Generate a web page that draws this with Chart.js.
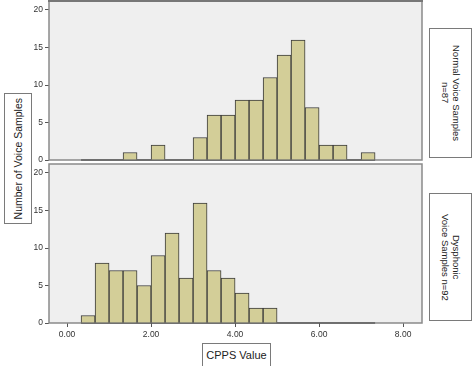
<!DOCTYPE html>
<html lang="en">
<head>
    <meta charset="UTF-8">
    <title>CPPS Histogram</title>
    <script src="https://cdn.jsdelivr.net/npm/chart.js"></script>
    <style>
        body {
            margin: 0;
            background: #ffffff;
            font-family: 'Liberation Sans', Arial, sans-serif;
        }

        #wrap {
            position: relative;
            width: 474px;
            height: 366px;
            overflow: hidden;
        }

        canvas {
            position: absolute;
            left: 0;
        }

        .box {
            position: absolute;
            box-sizing: border-box;
            border: 1.5px solid #7a7a7a;
            background: #ffffff;
            color: #222;
            display: flex;
            align-items: center;
            justify-content: center;
            text-align: center;
            line-height: 1.2;
        }

        .vert {
            writing-mode: vertical-rl;
        }

        .up {
            writing-mode: vertical-rl;
            transform: rotate(180deg);
        }
    </style>
</head>
<body>
<div id="wrap">
    <canvas id="bottomChart" style="top:163px" width="424" height="203"></canvas>
    <canvas id="topChart" style="top:0px" width="424" height="167"></canvas>

    <div class="box" style="left:4px; top:93px; width:28px; height:131px; font-size:10.5px;">
        <span class="up">Number of Voice Samples</span>
    </div>
    <div class="box" style="left:429px; top:28px; width:43px; height:130px; font-size:9.5px;">
        <span class="vert">Normal Voice Samples<br>n=87</span>
    </div>
    <div class="box" style="left:429px; top:193px; width:43px; height:128px; font-size:9.5px;">
        <span class="vert">Dysphonic<br>Voice Samples n=92</span>
    </div>
    <div class="box" style="left:202px; top:343px; width:69px; height:30px; font-size:11px; align-items:flex-start; padding-top:5px;">
        CPPS Value
    </div>
</div>

<script>
    // bin lower edges (CPPS), bin width is 1/3
    const binWidth = 1 / 3;
    const binLow = [0.333, 0.667, 1.0, 1.333, 1.667, 2.0, 2.333, 2.667, 3.0, 3.333, 3.667,
                    4.0, 4.333, 4.667, 5.0, 5.333, 5.667, 6.0, 6.333, 6.667, 7.0];

    const normalCounts = [0, 0, 0, 1, 0, 2, 0, 0, 3, 6, 6, 8, 8, 11, 14, 16, 7, 2, 2, 0, 1];
    const dysphonicCounts = [1, 8, 7, 7, 5, 9, 12, 6, 16, 7, 6, 4, 2, 2, 0, 0, 0, 0, 0, 0, 0];

    const xTickStep = 2;
    const yTickStep = 5;

    const panelFrame = {
        id: 'panelFrame',
        beforeDraw(chart) {
            const a = chart.chartArea;
            const ctx = chart.ctx;
            ctx.save();
            ctx.fillStyle = '#efefef';
            ctx.fillRect(a.left, a.top, a.right - a.left, a.bottom - a.top);
            ctx.restore();
        },
        beforeDatasetsDraw(chart, args, opts) {
            const a = chart.chartArea;
            const ctx = chart.ctx;
            ctx.save();
            ctx.strokeStyle = '#8a8a8a';
            ctx.lineWidth = 1.5;
            ctx.strokeRect(a.left, a.top, a.right - a.left, a.bottom - a.top);
            if (opts.thickTop) {
                ctx.strokeStyle = '#777';
                ctx.lineWidth = 3;
                ctx.beginPath();
                ctx.moveTo(a.left - 1, a.top - 0.5);
                ctx.lineTo(a.right + 1, a.top - 0.5);
                ctx.stroke();
            }
            ctx.restore();
        }
    };

    function makeChart(id, counts, showX, thickTop) {
        const bars = binLow.map((low, i) => ({ x: low + binWidth / 2, y: counts[i] }));
        const baseline = [
            { x: binLow[0], y: 0 },
            { x: binLow[binLow.length - 1] + binWidth, y: 0 }
        ];

        return new Chart(document.getElementById(id), {
            type: 'bar',
            data: {
                datasets: [
                    {
                        data: bars,
                        backgroundColor: '#d3ce98',
                        borderColor: '#3a3a3a',
                        borderWidth: 1,
                        barPercentage: 1,
                        categoryPercentage: 1,
                    },
                    {
                        type: 'line',
                        data: baseline,
                        borderColor: '#3a3a3a',
                        borderWidth: 1.2,
                        pointRadius: 0,
                        clip: false,
                    },
                ],
            },
            options: {
                responsive: false,
                animation: false,
                layout: {
                    padding: { top: 1, right: 2, bottom: showX ? 0 : 7, left: 0 },
                },
                plugins: {
                    legend: { display: false },
                    tooltip: { enabled: false },
                    panelFrame: { thickTop: thickTop },
                },
                scales: {
                    x: {
                        type: 'linear',
                        min: -0.43,
                        max: 8.45,
                        offset: false,
                        display: showX,
                        border: { display: false },
                        grid: { drawOnChartArea: false, offset: false, tickLength: 4, color: '#555' },
                        ticks: {
                            stepSize: xTickStep,
                            includeBounds: false,
                            padding: 3,
                            color: '#333',
                            font: { size: 8.5, family: 'Liberation Sans' },
                            maxRotation: 0,
                            callback: v => v.toFixed(2),
                        },
                        afterFit: s => {
                            if (showX) s.height = 43;
                            s.paddingLeft = 0;
                            s.paddingRight = 0;
                        },
                    },
                    y: {
                        min: 0,
                        max: 21.2,
                        border: { display: false },
                        grid: { drawOnChartArea: false, tickLength: 4, color: '#555' },
                        ticks: {
                            stepSize: yTickStep,
                            includeBounds: false,
                            padding: 2,
                            color: '#333',
                            font: { size: 8.5, family: 'Liberation Sans' },
                        },
                        afterFit: s => {
                            s.width = 49;
                            s.paddingTop = 0;
                            s.paddingBottom = 0;
                        },
                    },
                },
            },
            plugins: [panelFrame],
        });
    }

    makeChart('topChart', normalCounts, false, true);
    makeChart('bottomChart', dysphonicCounts, true, false);
</script>
</body>
</html>
